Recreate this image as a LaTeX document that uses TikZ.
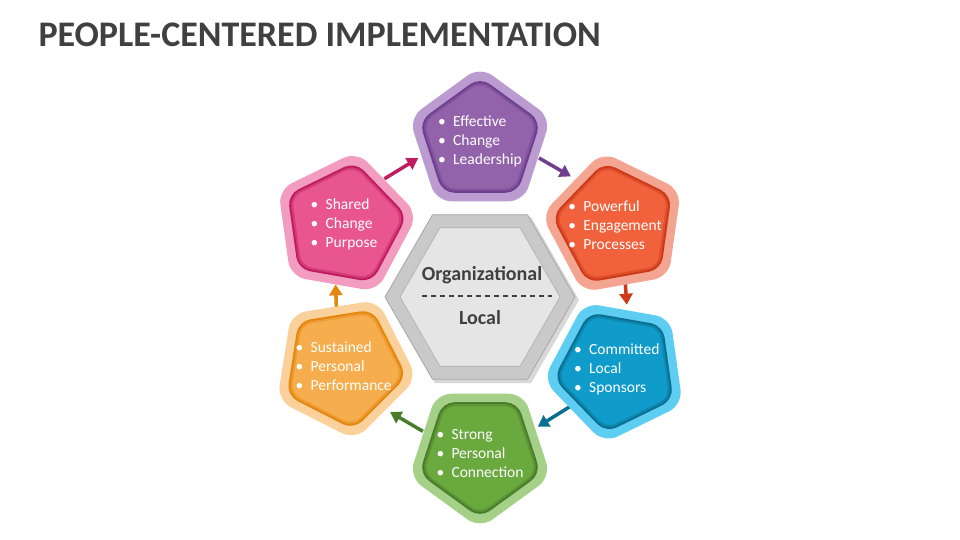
\documentclass[tikz,border=0pt]{standalone}
\usepackage{fontspec}
\setmainfont{Carlito}
\usetikzlibrary{shapes.geometric,arrows.meta,calc}

\definecolor{titlegray}{HTML}{404040}
% halo / rim / face colours of each pentagon
\definecolor{leadH}{HTML}{BC9BD0}\definecolor{leadR}{HTML}{6E3F8E}\definecolor{leadF}{HTML}{9263AA}
\definecolor{procH}{HTML}{F4A591}\definecolor{procR}{HTML}{CC3A17}\definecolor{procF}{HTML}{F0613C}
\definecolor{sponH}{HTML}{5DCDF2}\definecolor{sponR}{HTML}{0B6F92}\definecolor{sponF}{HTML}{0F9CCB}
\definecolor{connH}{HTML}{A5D087}\definecolor{connR}{HTML}{4A7D2A}\definecolor{connF}{HTML}{6AA93E}
\definecolor{perfH}{HTML}{FAD19A}\definecolor{perfR}{HTML}{E5860F}\definecolor{perfF}{HTML}{F6AD4D}
\definecolor{purpH}{HTML}{F29DC0}\definecolor{purpR}{HTML}{C01D60}\definecolor{purpF}{HTML}{E8558F}

\newcommand\bul{\makebox[15pt][l]{•}}

\tikzset{
  penta/.style={regular polygon, regular polygon sides=5, inner sep=0pt, rounded corners=#1},
  halo/.style={penta=15pt, minimum size=149pt},
  rim/.style={penta=12pt, minimum size=128pt},
  glow/.style={penta=11pt, minimum size=123pt},
  face/.style={penta=10pt, minimum size=118pt},
  bullets/.style={text=white, align=left, font=\fontsize{15.5}{19}\selectfont},
  flow/.style={line width=3.5pt, -{Triangle[length=11pt,width=13pt]}},
  hexa/.style={regular polygon, regular polygon sides=6, inner sep=0pt},
  hubtext/.style={text=titlegray, font=\fontsize{20}{24}\selectfont\bfseries},
}

\begin{document}
\begin{tikzpicture}[x=1pt,y=1pt]
  \useasboundingbox (0,0) rectangle (960,540);
  \node[anchor=west, text=titlegray, font=\fontsize{36}{40}\selectfont\bfseries] (title) at (35,505) {PEOPLE-CENTERED IMPLEMENTATION};

  \coordinate (ctr) at (480,243);

  % arrows first, the pentagons cover their ends
  \foreach \b/\e/\r/\c [count=\i] in {67/53/151/leadR, 11/-3/147/procR, -50/-66/142/sponR,
                                      247/232/146/connR, 189/175/145/perfR, 129/114/152/purpR}{
    \coordinate (s\i) at ($(ctr)+(\b:\r)$);
    \coordinate (e\i) at ($(ctr)+(\e:\r)$);
    \draw[flow, \c] (s\i) -- (e\i);
  }

  % pentagons
  \foreach \n/\a/\r/\txt in {lead/90/156/{\bul Effective\\\bul Change\\\bul Leadership},
                             proc/28/153/{\bul Powerful\\\bul Engagement\\\bul Processes},
                             spon/-28/155/{\bul Committed\\\bul Local\\\bul Sponsors},
                             conn/-90/157/{\bul Strong\\\bul Personal\\\bul Connection},
                             perf/-153/153/{\bul Sustained\\\bul Personal\\\bul Performance},
                             purp/152/154/{\bul Shared\\\bul Change\\\bul Purpose}}{
    \node[halo, fill=\n H, shape border rotate=\a-90] (\n) at ($(ctr)+(\a:\r)$) {};
    \node[rim, fill=\n R, shape border rotate=\a-90] (\n-rim) at (\n) {};
    \node[glow, fill=\n R!45!\n F, shape border rotate=\a-90] (\n-glow) at (\n) {};
    \node[face, fill=\n F, shape border rotate=\a-90] (\n-face) at (\n) {};
    \node[bullets] (\n-txt) at (\n) {\txt};
  }

  % hub
  \node[hexa, minimum size=192pt, fill=black!30, opacity=0.5] (hubshadow) at ($(ctr)+(3,-3)$) {};
  \node[hexa, minimum size=190pt, fill=black!21, draw=black!35, line width=0.8pt] (hub) at (ctr) {};
  \node[hexa, minimum size=160pt, fill=black!10, draw=black!32, line width=0.6pt] (hubin) at (ctr) {};
  \draw[titlegray, line width=1.3pt, dash pattern=on 5pt off 4pt] ($(ctr)+(-58,1)$) -- ($(ctr)+(72,1)$);
  \node[hubtext] (org) at ($(ctr)+(2,22)$) {Organizational};
  \node[hubtext] (loc) at ($(ctr)+(0,-21)$) {Local};
\end{tikzpicture}
\end{document}
